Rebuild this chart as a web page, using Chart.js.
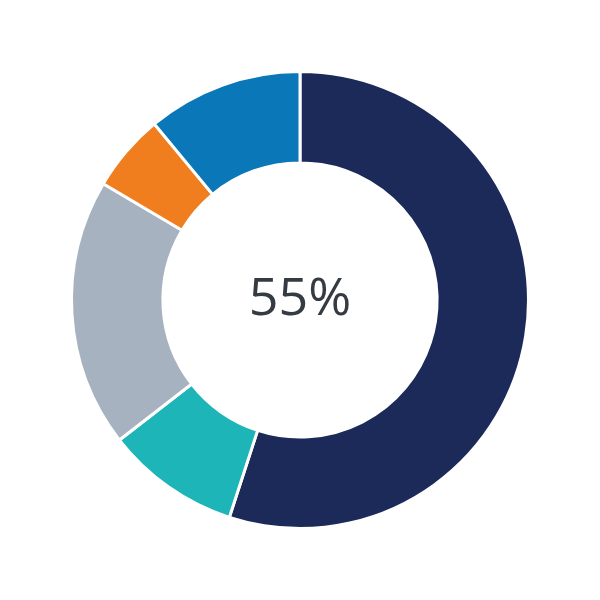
<!DOCTYPE html>
<html>
<head>
<meta charset="utf-8">
<script src="https://cdn.jsdelivr.net/npm/chart.js@4/dist/chart.umd.min.js"></script>
<style>
  html, body { margin: 0; padding: 0; background: #fff; }
  #wrap { width: 600px; height: 600px; }
</style>
</head>
<body>
<div id="wrap"><canvas id="chart" width="600" height="600"></canvas></div>
<script>
// Segment data, clockwise from the top
const labels = ['Navy', 'Teal', 'Gray', 'Orange', 'Blue'];
const values = [55, 9.5, 19, 5.5, 11];
const colors = ['#1b2a58', '#1db5b8', '#a7b2c0', '#f07e1f', '#0a77b8'];
const centerText = '55%';

// Draws the big number in the hole
const centerLabel = {
    id: 'centerLabel',
    afterDraw(chart) {
        const meta = chart.getDatasetMeta(0);
        const arc = meta.data[0];
        if (!arc) return;
        const ctx = chart.ctx;
        ctx.save();
        ctx.font = '52px "Open Sans", "Noto Sans", sans-serif';
        ctx.fillStyle = '#353b42';
        ctx.textAlign = 'center';
        ctx.textBaseline = 'middle';
        ctx.fillText(centerText, arc.x, arc.y);
        ctx.restore();
    }
};

new Chart(document.getElementById('chart'), {
    type: 'doughnut',
    data: {
        labels: labels,
        datasets: [{
            data: values,
            backgroundColor: colors,
            borderColor: '#ffffff',
            borderWidth: 3
        }]
    },
    options: {
        responsive: false,
        animation: false,
        cutout: '60%',
        layout: { padding: 70 },
        plugins: {
            legend: { display: false },
            tooltip: { enabled: false }
        }
    },
    plugins: [centerLabel]
});
</script>
</body>
</html>
